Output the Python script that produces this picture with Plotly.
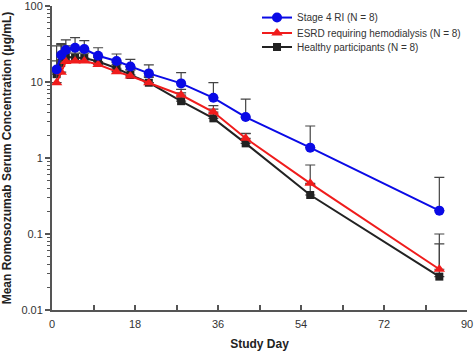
import plotly.graph_objects as go

days = [1, 2, 3, 5, 7, 10, 14, 17, 21, 28, 35, 42, 56, 84]

stage4_mean = [14.6, 22.7, 26.4, 28.3, 27.2, 22.2, 18.9, 16.0, 13.0, 9.6, 6.2, 3.46, 1.37, 0.203]
stage4_upper = [19.0, 32.0, 36.0, 38.5, 35.0, 28.3, 23.4, 19.9, 16.8, 13.3, 9.8, 5.97, 2.64, 0.557]

esrd_mean = [9.8, 13.5, 18.6, 18.9, 18.9, 17.0, 13.7, 12.0, 9.8, 6.75, 4.03, 1.82, 0.465, 0.0344]
esrd_upper = [13.5, 18.0, 25.0, 24.0, 24.0, 21.0, 17.0, 14.5, 11.5, 8.0, 4.9, 2.11, 0.81, 0.1]

healthy_mean = [12.7, 17.8, 21.3, 21.0, 20.7, 18.6, 15.2, 12.4, 9.8, 5.6, 3.33, 1.56, 0.326, 0.0275]
healthy_upper = [30.0, 31.0, 30.0, 27.0, 26.0, 22.0, 18.0, 14.5, 12.0, 7.2, 4.4, 2.1, 0.45, 0.074]

y_major = [0.01, 0.1, 1, 10, 100]
y_major_labels = ["0.01", "0.1", "1", "10", "100"]
x_major = [0, 18, 36, 54, 72, 90]

FONT = "Arial, Liberation Sans, sans-serif"

# (name, mean, upper, color, symbol, size, legend id, legend y)
series = [
    ("Healthy participants (N = 8)", healthy_mean, healthy_upper, "#222222", "square", 8, "legend3", 0.865),
    ("ESRD requiring hemodialysis (N = 8)", esrd_mean, esrd_upper, "#f01c1c", "triangle-up", 10, "legend2", 0.911),
    ("Stage 4 RI (N = 8)", stage4_mean, stage4_upper, "#0a0ae6", "circle", 10, "legend", 0.962),
]

fig = go.Figure()
for name, mean, upper, color, sym, size, leg, _ in series:
    plus = [u - m for u, m in zip(upper, mean)]
    fig.add_trace(go.Scatter(
        x=days, y=mean, name=name, mode="lines+markers", legend=leg,
        line=dict(color=color, width=2),
        marker=dict(symbol=sym, size=size, color=color),
        error_y=dict(type="data", symmetric=False, array=plus,
                     arrayminus=[0] * len(mean), color="#444444",
                     thickness=1.2, width=5),
    ))

minor_y = []
for d in [0.01, 0.1, 1, 10]:
    for k in range(2, 10):
        minor_y.append(d * k)

axis_font = dict(family=FONT, size=11, color="#333333")

legends = {}
for name, mean, upper, color, sym, size, leg, ly in series:
    legends[leg] = dict(x=0.494, y=ly, xanchor="left", yanchor="middle",
                        bgcolor="rgba(0,0,0,0)", borderwidth=0,
                        font=dict(family=FONT, size=10, color="#333333"))

fig.update_layout(
    width=474, height=354,
    margin=dict(l=52, r=7, t=6, b=44, autoexpand=False),
    plot_bgcolor="white", paper_bgcolor="white",
    font=axis_font,
    showlegend=True,
    **legends,
    xaxis=dict(range=[0, 90], tickvals=x_major, ticktext=[str(v) for v in x_major],
               ticks="inside", ticklen=5, tickwidth=1.5, tickcolor="#555555",
               showline=True, linecolor="#555555", linewidth=2,
               showgrid=False, zeroline=False, automargin=False,
               ticklabeloverflow="allow", ticklabelstandoff=3,
               minor=dict(tickvals=[9, 27, 45, 63, 81], ticks="inside", ticklen=5,
                          tickwidth=1.5, tickcolor="#555555", showgrid=False),
               title=dict(text="<b>Study Day</b>", standoff=10,
                          font=dict(family=FONT, size=12, color="#222222"))),
    yaxis=dict(type="log", range=[-2, 2.001], tickvals=y_major, ticktext=y_major_labels,
               ticks="outside", ticklen=5, tickwidth=1.5, tickcolor="#555555",
               showline=True, linecolor="#555555", linewidth=2,
               showgrid=False, zeroline=False, automargin=False,
               ticklabeloverflow="allow",
               minor=dict(tickvals=minor_y, ticks="outside", ticklen=3,
                          tickwidth=1, tickcolor="#555555", showgrid=False),
               title=dict(text="<b>Mean Romosozumab Serum Concentration (μg/mL)</b>", standoff=8,
                          font=dict(family=FONT, size=12, color="#222222"))),
)

fig.write_html("out.html")
